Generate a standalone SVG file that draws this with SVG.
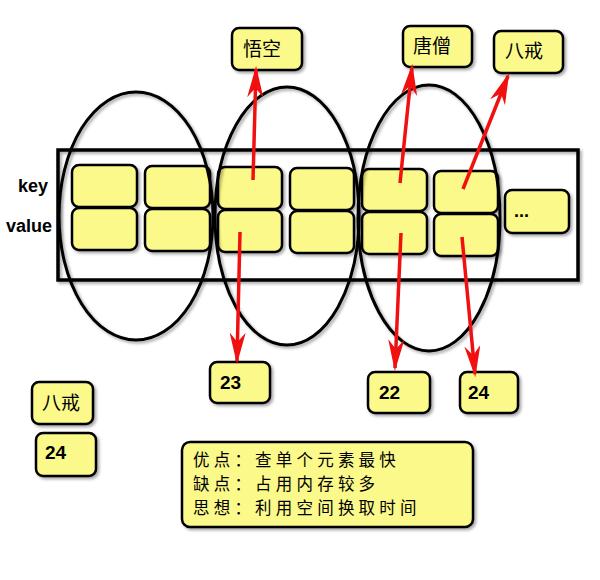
<svg xmlns="http://www.w3.org/2000/svg" width="600" height="580" viewBox="0 0 600 580">
<defs>
<filter id="sh" x="-20%" y="-20%" width="140%" height="140%">
<feDropShadow dx="2" dy="2" stdDeviation="1.5" flood-color="#000" flood-opacity="0.35"/>
</filter>
<marker id="ah" viewBox="0 0 10 10" refX="9" refY="5" markerWidth="9" markerHeight="4.6" markerUnits="strokeWidth" orient="auto" preserveAspectRatio="none">
<path d="M0,0 L10,5 L0,10 L3,5 Z" fill="#f01010"/>
</marker>
<style>
.cell{fill:#fbf98a;stroke:#000;stroke-width:2.5;filter:url(#sh)}
.ell{fill:none;stroke:#000;stroke-width:3;filter:url(#sh)}
.frame{fill:none;stroke:#000;stroke-width:3.5;filter:url(#sh)}
.arr{stroke:#f01010;stroke-width:3.5;fill:none;marker-end:url(#ah)}
.lbl{font-family:"Liberation Sans",Arial,sans-serif;font-weight:bold;font-size:18px;fill:#000}
.num{font-family:"Liberation Sans",Arial,sans-serif;font-weight:bold;font-size:19px;fill:#000}
.cjk{font-family:"Noto Sans CJK SC","Noto Sans CJK JP",sans-serif;font-size:19px;fill:#000}
.note{font-family:"Noto Sans CJK SC","Noto Sans CJK JP",sans-serif;font-size:16.5px;letter-spacing:4.2px;fill:#000}
</style>
</defs>
<rect width="600" height="580" fill="#fff"/>
<g id="frame"><rect class="frame" x="58" y="150" width="520" height="130"/></g>
<g id="labels">
<text class="lbl" x="18" y="192">key</text>
<text class="lbl" x="6" y="232">value</text>
</g>
<g id="cells">
<g id="c1"><rect class="cell" x="72" y="165" width="65" height="42" rx="7"/><rect class="cell" x="72" y="208" width="65" height="42" rx="7"/></g>
<g id="c2"><rect class="cell" x="145" y="166" width="65" height="42" rx="7"/><rect class="cell" x="145" y="209" width="65" height="42" rx="7"/></g>
<g id="c3"><rect class="cell" x="218" y="167" width="64" height="42" rx="7"/><rect class="cell" x="218" y="210" width="64" height="42" rx="7"/></g>
<g id="c4"><rect class="cell" x="290" y="168" width="64" height="42" rx="7"/><rect class="cell" x="290" y="211" width="64" height="42" rx="7"/></g>
<g id="c5"><rect class="cell" x="362" y="169" width="65" height="42" rx="7"/><rect class="cell" x="362" y="212" width="65" height="42" rx="7"/></g>
<g id="c6"><rect class="cell" x="434" y="171" width="64" height="42" rx="7"/><rect class="cell" x="434" y="214" width="64" height="42" rx="7"/></g>
<g id="more"><rect class="cell" x="505" y="190" width="64" height="43" rx="7"/><text class="lbl" x="514" y="217">...</text></g>
</g>
<g id="ellipses">
<ellipse class="ell" cx="136" cy="216" rx="77" ry="124"/>
<ellipse class="ell" cx="287" cy="216" rx="72" ry="129"/>
<ellipse class="ell" cx="429" cy="218" rx="71" ry="133"/>
</g>
<g id="n-wukong"><rect class="cell" x="232" y="28" width="70" height="42" rx="7"/><text class="cjk" x="243" y="56">悟空</text></g>
<g id="n-tangseng"><rect class="cell" x="403" y="26" width="69" height="41" rx="7"/><text class="cjk" x="413" y="53">唐僧</text></g>
<g id="n-bajie"><rect class="cell" x="494" y="31" width="69" height="42" rx="7"/><text class="cjk" x="505" y="58">八戒</text></g>
<g id="n-23"><rect class="cell" x="210" y="362" width="60" height="41" rx="7"/><text class="num" x="220" y="389">23</text></g>
<g id="n-22"><rect class="cell" x="368" y="372" width="62" height="41" rx="7"/><text class="num" x="379" y="399">22</text></g>
<g id="n-24r"><rect class="cell" x="460" y="372" width="58" height="41" rx="7"/><text class="num" x="468" y="399">24</text></g>
<g id="n-bajie2"><rect class="cell" x="32" y="382" width="61" height="42" rx="7"/><text class="cjk" x="42" y="410">八戒</text></g>
<g id="n-24l"><rect class="cell" x="36" y="433" width="60" height="43" rx="7"/><text class="num" x="45" y="459">24</text></g>
<g id="n-note"><rect class="cell" x="182" y="442" width="291" height="85" rx="8"/>
<text class="note" x="193" y="466">优点：查单个元素最快</text>
<text class="note" x="193" y="490">缺点：占用内存较多</text>
<text class="note" x="193" y="514">思想：利用空间换取时间</text>
</g>
<g id="connectors">
<line class="arr" x1="253" y1="180" x2="256" y2="69"/>
<line class="arr" x1="400" y1="183" x2="412" y2="67"/>
<line class="arr" x1="463" y1="189" x2="508" y2="76"/>
<line class="arr" x1="240" y1="232" x2="237" y2="361"/>
<line class="arr" x1="401" y1="233" x2="395" y2="368"/>
<line class="arr" x1="462" y1="237" x2="475" y2="374"/>
</g>
</svg>
